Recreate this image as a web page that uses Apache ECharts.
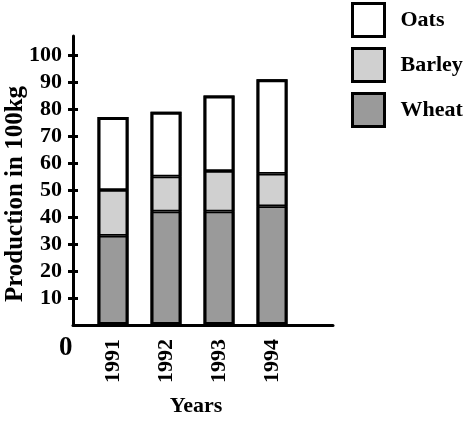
<!DOCTYPE html>
<html>
<head>
<meta charset="utf-8">
<script src="https://cdn.jsdelivr.net/npm/echarts@6/dist/echarts.min.js"></script>
<style>
  html, body { margin: 0; padding: 0; background: #fff; }
  #chart { width: 474px; height: 424px; }
</style>
</head>
<body>
<div id="chart"></div>
<script>
// 数据
const years = [1991, 1992, 1993, 1994];
const wheat = [33, 42, 42, 44];
const barley = [17, 13, 15, 12];
const oats = [27, 24, 28, 35];
const yTicks = [10, 20, 30, 40, 50, 60, 70, 80, 90, 100];

const font = "'Liberation Serif', 'Times New Roman', serif";
const chart = echarts.init(document.getElementById('chart'));

// 数值放在第一维，这样堆叠作用在产量上而不是年份上
const makeSeries = (name, values, color) => ({
  name: name,
  type: 'bar',
  stack: 'total',
  barWidth: 31,
  barGap: '-100%',
  data: values.map((v, i) => [v, years[i]]),
  encode: { x: 1, y: 0 },
  itemStyle: { color: color, borderColor: '#000', borderWidth: 1.75 },
  emphasis: { disabled: true }
});

// 外框：整根柱子的粗边框（各段之间只留一条线）
const totals = years.map((y, i) => wheat[i] + barley[i] + oats[i]);

const option = {
  animation: false,
  backgroundColor: '#fff',
  textStyle: { fontFamily: font },
  grid: { left: 73, right: 141, top: 36, bottom: 99, outerBoundsMode: 'none' },
  legend: {
    data: ['Oats', 'Barley', 'Wheat'],
    orient: 'vertical',
    left: 351,
    top: 2,
    padding: 0,
    itemWidth: 32,
    itemHeight: 33,
    itemGap: 9,
    icon: 'rect',
    itemStyle: { borderColor: '#000', borderWidth: 3 },
    textStyle: { fontFamily: font, fontSize: 22, fontWeight: 'bold', color: '#000', padding: [0, 0, 0, 11] }
  },
  xAxis: {
    type: 'value',
    min: 1990.245,
    max: 1995.15,
    name: 'Years',
    nameLocation: 'middle',
    nameGap: 70,
    nameMoveOverlap: false,
    nameTextStyle: { fontFamily: font, fontSize: 22, fontWeight: 'bold', color: '#000', padding: [0, 14, 0, 0] },
    axisLine: { lineStyle: { color: '#000', width: 3 } },
    axisTick: { show: false },
    splitLine: { show: false },
    axisLabel: {
      customValues: years,
      rotate: 90,
      margin: 14,
      formatter: (v) => String(v),
      fontFamily: font, fontSize: 22, fontWeight: 'bold', color: '#000'
    }
  },
  yAxis: [
    {
      type: 'value',
      position: 'left',
      min: 0,
      max: 107,
      name: 'Production in 100kg',
      nameLocation: 'middle',
      nameGap: 45,
      nameMoveOverlap: false,
      nameTextStyle: { fontFamily: font, fontSize: 25, fontWeight: 'bold', color: '#000', padding: [0, 27, 0, 0] },
      axisLine: { show: true, lineStyle: { color: '#000', width: 3 } },
      axisTick: { show: true, customValues: yTicks, length: 5, lineStyle: { color: '#000', width: 3 } },
      splitLine: { show: false },
      axisLabel: {
        customValues: yTicks,
        margin: 11,
        fontFamily: font, fontSize: 22, fontWeight: 'bold', color: '#000'
      }
    },
    {
      type: 'value',
      position: 'left',
      min: 0,
      max: 107,
      axisLine: { show: false },
      axisTick: { show: true, inside: true, customValues: yTicks, length: 5, lineStyle: { color: '#000', width: 3 } },
      splitLine: { show: false },
      axisLabel: { show: false }
    }
  ],
  graphic: [
    {
      type: 'text',
      left: 59,
      top: 335,
      style: { text: '0', fontFamily: font, fontSize: 27, fontWeight: 'bold', fill: '#000' }
    }
  ],
  series: [
    makeSeries('Wheat', wheat, '#9a9a9a'),
    makeSeries('Barley', barley, '#d0d0d0'),
    makeSeries('Oats', oats, '#ffffff'),
    {
      name: 'outline',
      type: 'bar',
      barWidth: 31,
      barGap: '-100%',
      silent: true,
      data: totals.map((v, i) => [v, years[i]]),
      encode: { x: 1, y: 0 },
      itemStyle: { color: 'rgba(0,0,0,0)', borderColor: '#000', borderWidth: 3 },
      emphasis: { disabled: true }
    }
  ]
};

chart.setOption(option);
</script>
</body>
</html>
